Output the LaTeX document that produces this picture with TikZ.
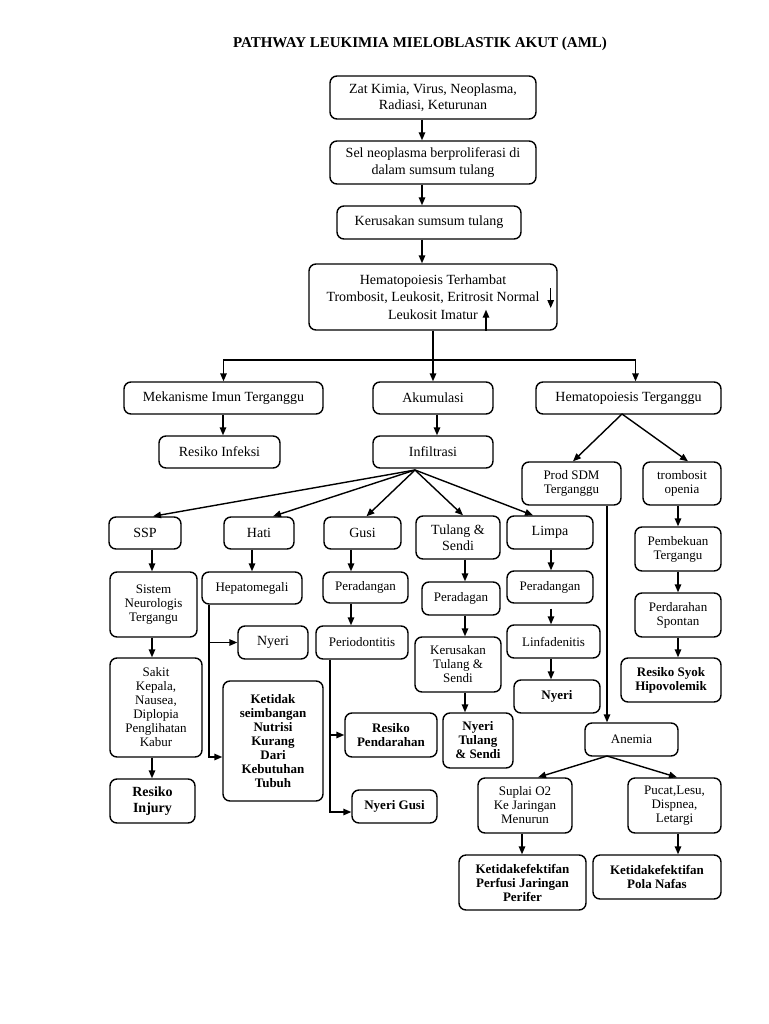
\documentclass[tikz,border=0pt]{standalone}
\usepackage{fontspec}
\setmainfont{Liberation Serif}
\usetikzlibrary{arrows.meta}

\begin{document}
\begin{tikzpicture}
	[
	x=1pt, y=-1pt,
	align=center,
	line width=1.4pt,
	>={Triangle[length=8pt, width=6.5pt]},
	box/.style={draw=black, rounded corners=7pt, inner sep=1pt, font=\fontsize{14}{16.5}\selectfont},
	small/.style={box, font=\fontsize{13}{14}\selectfont},
	diag/.style={box, font=\bfseries\fontsize{13}{14}\selectfont}
	]
		\useasboundingbox (0, 0) rectangle (768, 1024);
		
		% title
		\node (title) at (420, 44) {\fontsize{15}{18}\selectfont\bfseries PATHWAY LEUKIMIA MIELOBLASTIK AKUT (AML)};
		
		% top
		\node (b1) [box, minimum width=206, minimum height=43] at (433, 97.5) {Zat Kimia, Virus, Neoplasma,\\Radiasi, Keturunan};
		\node (b2) [box, minimum width=206, minimum height=43] at (433, 162.5) {Sel neoplasma berproliferasi di\\dalam sumsum tulang};
		\node (b3) [box, minimum width=184, minimum height=33] at (429, 222.5) {Kerusakan sumsum tulang};
		\node (hem) [box, minimum width=248, minimum height=66, font=\fontsize{14}{17.5}\selectfont] at (433, 297) {Hematopoiesis Terhambat\\Trombosit, Leukosit, Eritrosit Normal\\Leukosit Imatur};
		
		% second row
		\node (mek) [box, minimum width=199, minimum height=32] at (223.5, 398) {Mekanisme Imun Terganggu};
		\node (akm) [box, minimum width=120, minimum height=32] at (433, 398) {Akumulasi};
		\node (hter) [box, minimum width=185, minimum height=32] at (628.5, 398) {Hematopoiesis Terganggu};
		\node (infeksi) [box, minimum width=121, minimum height=32] at (219.5, 452) {Resiko Infeksi};
		\node (inf) [box, minimum width=120, minimum height=32] at (433, 452) {Infiltrasi};
		\node (prod) [small, minimum width=99, minimum height=43] at (571.5, 483.5) {Prod SDM\\Terganggu};
		\node (trombo) [small, minimum width=78, minimum height=43] at (682, 483.5) {trombosit\\openia};
		
		% organs
		\node (ssp) [box, minimum width=72, minimum height=32] at (145, 533) {SSP};
		\node (hati) [box, minimum width=70, minimum height=32] at (259, 533) {Hati};
		\node (gusi) [box, minimum width=77, minimum height=32] at (362.5, 533) {Gusi};
		\node (tulang) [box, minimum width=84, minimum height=43] at (458, 537.5) {Tulang \&\\Sendi};
		\node (limpa) [box, minimum width=86, minimum height=33] at (550, 532.5) {Limpa};
		
		% ssp
		\node (neuro) [small, minimum width=87, minimum height=65] at (153.5, 604.5) {Sistem\\Neurologis\\Tergangu};
		\node (sakit) [small, minimum width=92, minimum height=99] at (156, 707.5) {Sakit\\Kepala,\\Nausea,\\Diplopia\\Penglihatan\\Kabur};
		\node (injury) [diag, minimum width=85, minimum height=44, font=\bfseries\fontsize{14}{15.5}\selectfont] at (152.5, 801) {Resiko\\Injury};
		
		% hati
		\node (hepa) [small, minimum width=100, minimum height=32] at (252, 588) {Hepatomegali};
		\node (nyeri1) [box, minimum width=70, minimum height=33] at (273, 642.5) {Nyeri};
		\node (nutrisi) [diag, minimum width=100, minimum height=120] at (273, 741) {Ketidak\\seimbangan\\Nutrisi\\Kurang\\Dari\\Kebutuhan\\Tubuh};
		
		% gusi
		\node (per1) [small, minimum width=85, minimum height=31] at (365.5, 587.5) {Peradangan};
		\node (perio) [small, minimum width=92, minimum height=33] at (362, 642.5) {Periodontitis};
		\node (pend) [diag, minimum width=92, minimum height=44] at (391, 735) {Resiko\\Pendarahan};
		\node (ngusi) [diag, minimum width=85, minimum height=33] at (394.5, 806.5) {Nyeri Gusi};
		
		% tulang
		\node (peradg) [small, minimum width=78, minimum height=33] at (461, 598.5) {Peradagan};
		\node (kerus) [small, minimum width=86, minimum height=55] at (458, 664.5) {Kerusakan\\Tulang \&\\Sendi};
		\node (ntulang) [diag, minimum width=70, minimum height=55] at (478, 740.5) {Nyeri\\Tulang\\\& Sendi};
		
		% limpa
		\node (per2) [small, minimum width=86, minimum height=32] at (550, 587) {Peradangan};
		\node (linf) [small, minimum width=93, minimum height=33] at (553.5, 641.5) {Linfadenitis};
		\node (nlimpa) [diag, minimum width=86, minimum height=33] at (557, 696.5) {Nyeri};
		
		% trombosit
		\node (bekuan) [small, minimum width=86, minimum height=44] at (678, 549) {Pembekuan\\Tergangu};
		\node (spontan) [small, minimum width=86, minimum height=44] at (678, 615) {Perdarahan\\Spontan};
		\node (syok) [diag, minimum width=100, minimum height=44] at (671, 680) {Resiko Syok\\Hipovolemik};
		
		% anemia
		\node (anemia) [small, minimum width=93, minimum height=33] at (631.5, 739.5) {Anemia};
		\node (suplai) [small, minimum width=94, minimum height=55] at (525, 805.5) {Suplai O2\\Ke Jaringan\\Menurun};
		\node (pucat) [small, minimum width=93, minimum height=55] at (674.5, 805.5) {Pucat,Lesu,\\Dispnea,\\Letargi};
		\node (perfusi) [diag, minimum width=127, minimum height=55] at (522.5, 882.5) {Ketidakefektifan\\Perfusi Jaringan\\Perifer};
		\node (pola) [diag, minimum width=128, minimum height=44] at (657, 877) {Ketidakefektifan\\Pola Nafas};
		
		% columns and branch points
		\coordinate (c0) at (422, 0);
		\coordinate (cm) at (223, 0);
		\coordinate (ca) at (437, 0);
		\coordinate (cs) at (152, 0);
		\coordinate (ch) at (252, 0);
		\coordinate (chl) at (209, 0);
		\coordinate (cg) at (351, 0);
		\coordinate (cgl) at (330, 0);
		\coordinate (ct) at (465, 0);
		\coordinate (cl) at (551, 0);
		\coordinate (cr) at (678, 0);
		\coordinate (cu) at (522, 0);
		\coordinate (cp) at (607, 0);
		\coordinate (split) at (433, 360);
		\coordinate (fan1) at (415, 470);
		\coordinate (fan2) at (622, 414);
		\coordinate (fan3) at (607, 756);
		
		% drawing code
		\draw [->] ([xshift=-7pt, yshift=9pt]hem.east) -- ++(0, 20);
		\draw [->] ([xshift=53pt]hem.south) -- ++(0, -21);
		\draw (hem) -- (split);
		\draw [->] (split) -| (mek);
		\draw [->] (split) -- (akm);
		\draw [->] (split) -| ([xshift=7pt]hter.north);
		\foreach \to/\dx in {ssp/8, hati/14, gusi/4, tulang/5, limpa/-17} \draw [->] (fan1) -- ([xshift=\dx pt]\to.north);
		\foreach \to/\dx in {prod/1.5, trombo/6} \draw [->] (fan2) -- ([xshift=\dx pt]\to.north);
		\foreach \to/\dx in {suplai/13, pucat/2.5} \draw [->] (fan3) -- ([xshift=\dx pt]\to.north);
		\foreach \from/\to/\col in {b1/b2/c0, b2/b3/c0, b3/hem/c0, mek/infeksi/cm, akm/inf/ca, ssp/neuro/cs, neuro/sakit/cs, sakit/injury/cs, hati/hepa/ch, gusi/per1/cg, per1/perio/cg, tulang/peradg/ct, peradg/kerus/ct, kerus/ntulang/ct, limpa/per2/cl, linf/nlimpa/cl, trombo/bekuan/cr, bekuan/spontan/cr, spontan/syok/cr, suplai/perfusi/cu, pucat/pola/cr, prod/anemia/cp}
			\draw [->] (\from.south -| \col) -- (\to.north -| \col);
		\draw [->, shorten <=5pt] (per2.south -| cl) -- (linf.north -| cl);
		\draw [->] (hepa.south -| chl) |- ([yshift=-16pt]nutrisi.west);
		\draw [->] (chl |- nyeri1.west) -- (nyeri1.west);
		\draw [->] (perio.south -| cgl) |- ([yshift=-5.5pt]ngusi.west);
		\draw [->] (cgl |- pend.west) -- (pend.west);
	\end{tikzpicture}
\end{document}
